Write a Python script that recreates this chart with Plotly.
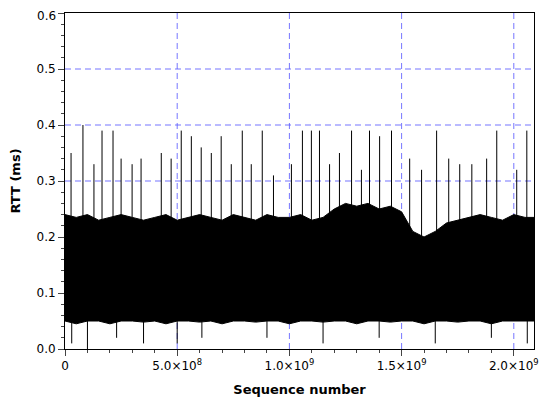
import plotly.graph_objects as go

env_x = [i*0.05e9 for i in range(43)]
env_high = [0.24,0.235,0.24,0.23,0.235,0.24,0.235,0.23,0.235,0.24,0.23,0.235,0.24,0.235,0.23,0.24,0.235,0.23,0.24,0.235,
            0.235,0.24,0.23,0.235,0.25,0.26,0.255,0.26,0.25,0.255,0.245,0.21,0.20,0.21,0.225,0.23,0.235,0.24,0.235,0.23,0.24,0.235,0.235]
env_low = [0.05,0.045,0.05,0.05,0.045,0.05,0.05,0.048,0.05,0.045,0.05,0.05,0.048,0.05,0.045,0.05,0.05,0.048,0.05,0.05,
           0.045,0.05,0.05,0.048,0.05,0.05,0.045,0.05,0.05,0.048,0.05,0.05,0.045,0.05,0.05,0.048,0.05,0.05,0.045,0.05,0.05,0.05,0.05]
spike_x = [0.27,0.80,1.29,1.65,2.14,2.50,2.99,3.39,4.29,4.73,5.18,5.63,6.07,6.52,6.96,7.41,7.90,8.30,8.79,9.29,10.09,10.58,
           10.98,11.34,11.79,12.23,12.77,13.21,13.57,14.02,14.55,15.36,15.89,16.56,17.10,17.59,18.13,18.79,19.24,20.13,20.58]
spike_y = [0.35,0.40,0.33,0.39,0.39,0.34,0.33,0.34,0.35,0.34,0.39,0.38,0.36,0.35,0.38,0.33,0.39,0.33,0.39,0.31,0.33,0.39,
           0.39,0.39,0.33,0.35,0.39,0.32,0.39,0.38,0.39,0.34,0.32,0.39,0.34,0.33,0.33,0.34,0.39,0.32,0.39]
dip_x = [0.3,1.0,2.3,3.5,5.0,6.1,9.0,11.5,14.0,16.5,19.0,20.6]
dip_y = [0.01,0.0,0.02,0.01,0.01,0.02,0.02,0.01,0.02,0.01,0.02,0.01]
y_ticks = [0, 0.1, 0.2, 0.3, 0.4, 0.5, 0.6]
x_ticks = [0, 5e8, 1e9, 1.5e9, 2e9]

fig = go.Figure()
fig.add_trace(go.Scatter(x=env_x + env_x[::-1], y=env_high + env_low[::-1], fill='toself',
                         fillcolor='black', line=dict(color='black', width=1), mode='lines', hoverinfo='skip'))
sx, sy = [], []
for x, y in zip(spike_x, spike_y):
    sx += [x*1e8, x*1e8, None]; sy += [0.12, y, None]
for x, y in zip(dip_x, dip_y):
    sx += [x*1e8, x*1e8, None]; sy += [0.1, y, None]
fig.add_trace(go.Scatter(x=sx, y=sy, mode='lines', line=dict(color='black', width=1)))

gl = dict(color='#5f5fff', width=1, dash='6px,4px')
for xv in x_ticks[1:]:
    fig.add_shape(type='line', xref='x', yref='paper', x0=xv, x1=xv, y0=0, y1=1, line=gl, opacity=0.85, layer='below')
for yv in y_ticks[1:-1]:
    fig.add_shape(type='line', xref='paper', yref='y', x0=0, x1=1, y0=yv, y1=yv, line=gl, opacity=0.85, layer='below')

fig.add_annotation(x=0, xref='paper', y=y_ticks[-1], yref='y', text=f'{y_ticks[-1]:.1f}',
                   showarrow=False, xanchor='right', yanchor='top', yshift=6, xshift=-7, font=dict(size=12))

ax = dict(showgrid=False, automargin=False, ticks='outside', ticklen=6, showline=True,
          linecolor='black', mirror=True, zeroline=False)
fig.update_layout(
    width=550, height=410, showlegend=False, plot_bgcolor='white', paper_bgcolor='white',
    margin=dict(l=57, r=24, t=5, b=69, autoexpand=False),
    font=dict(family='DejaVu Sans', size=12, color='black'),
    xaxis=dict(range=[0, 2.09e9], tickvals=x_ticks,
               ticktext=['0', '5.0×10<sup>8</sup>', '1.0×10<sup>9</sup>', '1.5×10<sup>9</sup>', '2.0×10<sup>9</sup>'],
               minor=dict(ticks='outside', ticklen=3, dtick=1e8, tick0=0, showgrid=False),
               title=dict(text='<b>Sequence number</b>', standoff=12, font=dict(size=13)), **ax),
    yaxis=dict(range=[0, 0.6], tickvals=y_ticks, tickformat='.1f',
               minor=dict(ticks='outside', ticklen=3, dtick=0.02, showgrid=False),
               title=dict(text='<b>RTT (ms)</b>', standoff=14, font=dict(size=13)), **ax),
)
fig.write_html("out.html")
